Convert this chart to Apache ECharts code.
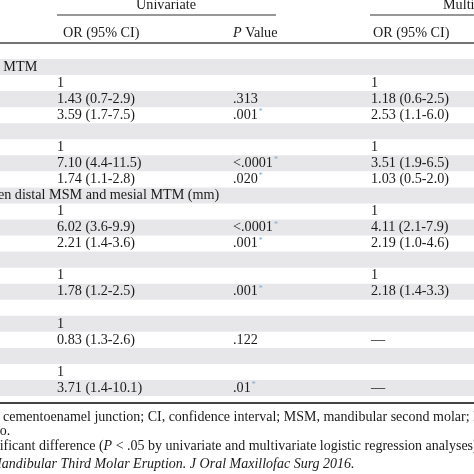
<!DOCTYPE html>
<html><head><meta charset="utf-8">
<script src="https://cdn.jsdelivr.net/npm/echarts@6/dist/echarts.min.js"></script>
<style>html,body{margin:0;padding:0;background:#fff}#c{width:474px;height:474px}</style>
</head><body><div id="c"></div>
<script>
const rowLabels = ['of MTM','','','','','','','','between distal MSM and mesial MTM (mm)','','','','','','','','','','','',''];
const uniOR = ['','1','1.43 (0.7-2.9)','3.59 (1.7-7.5)','','1','7.10 (4.4-11.5)','1.74 (1.1-2.8)','','1','6.02 (3.6-9.9)','2.21 (1.4-3.6)','','1','1.78 (1.2-2.5)','','1','0.83 (1.3-2.6)','','1','3.71 (1.4-10.1)'];
const uniP = ['','','.313','.001*','','','<.0001*','.020*','','','<.0001*','.001*','','','.001*','','','.122','','','.01*'];
const multiOR = ['','1','1.18 (0.6-2.5)','2.53 (1.1-6.0)','','1','3.51 (1.9-6.5)','1.03 (0.5-2.0)','','1','4.11 (2.1-7.9)','2.19 (1.0-4.6)','','1','2.18 (1.4-3.3)','','','—','','','—'];
const headers = ['Univariate','Multivariate','OR (95% CI)','P Value','OR (95% CI)'];
const footnotes = [
 'Abbreviations: CEJ, cementoenamel junction; CI, confidence interval; MSM, mandibular second molar; MTM, mandibular third molar',
 'ratio.',
 '*Significant difference (P < .05 by univariate and multivariate logistic regression analyses).',
 'Factors Affecting Mandibular Third Molar Eruption. J Oral Maxillofac Surg 2016.'
];
const F = '"Liberation Serif", "DejaVu Serif", serif';
const FS = '14.2px ';
const txtC = '#1a1a1a';
const top0 = 59, rowH = 16.05;
const els = [];
for (let i = 0; i < uniOR.length; i++) {
  const y = top0 + i * rowH;
  if (i % 2 === 0) els.push({type:'rect', shape:{x:0,y:y,width:474,height:rowH}, style:{fill:'#e7e7e9'}});
  const cy = y + rowH/2;
  const mk = (x, s) => {
    if (!s) return;
    const star = s.endsWith('*');
    const base = star ? s.slice(0,-1) : s;
    els.push({type:'text', x:x, y:cy, style:{text: star ? '{a|'+base+'}{s|*}' : '{a|'+base+'}', verticalAlign:'middle',
      rich:{a:{font:FS+F, fill:txtC}, s:{font:'8px '+F, fill:'#7fa9c9', verticalAlign:'top', padding:[0,0,5,1]}}}});
  };
  mk(57, uniOR[i]); mk(233, uniP[i]); mk(371, multiOR[i]);
}
els.push({type:'text', x:-12, y:top0+rowH/2, style:{text:rowLabels[0], font:FS+F, fill:txtC, verticalAlign:'middle'}});
els.push({type:'text', x:-36, y:top0+8*rowH+rowH/2, style:{text:rowLabels[8], font:FS+F, fill:txtC, verticalAlign:'middle'}});
els.push({type:'text', x:166, y:5, style:{text:headers[0], font:FS+F, fill:txtC, align:'center', verticalAlign:'middle'}});
els.push({type:'text', x:443, y:5, style:{text:headers[1], font:FS+F, fill:txtC, verticalAlign:'middle'}});
els.push({type:'line', shape:{x1:57,y1:15,x2:276,y2:15}, style:{stroke:'#333', lineWidth:1.2}});
els.push({type:'line', shape:{x1:370,y1:15,x2:474,y2:15}, style:{stroke:'#333', lineWidth:1.2}});
els.push({type:'text', x:63, y:33, style:{text:headers[2], font:FS+F, fill:txtC, verticalAlign:'middle'}});
els.push({type:'text', x:233, y:33, style:{text:'{i|P} Value', verticalAlign:'middle', rich:{i:{font:'italic '+FS+F, fill:txtC}}, font:FS+F, fill:txtC}});
els.push({type:'text', x:373, y:33, style:{text:headers[4], font:FS+F, fill:txtC, verticalAlign:'middle'}});
els.push({type:'line', shape:{x1:0,y1:43,x2:474,y2:43}, style:{stroke:'#444', lineWidth:1.5}});
els.push({type:'line', shape:{x1:0,y1:403,x2:474,y2:403}, style:{stroke:'#444', lineWidth:2}});
const FF = '14px ';
els.push({type:'text', x:-114, y:417, style:{text:footnotes[0], font:FF+F, fill:txtC, verticalAlign:'middle'}});
els.push({type:'text', x:-19, y:431, style:{text:footnotes[1], font:FF+F, fill:txtC, verticalAlign:'middle'}});
els.push({type:'text', x:-33, y:446, style:{text:'*Signi{n|ficant difference (}{i|P}{n| < .05 by univariate and multivariate logistic regression analyses).}', verticalAlign:'middle', font:FF+F, fill:txtC, rich:{n:{font:FF+F, fill:txtC}, i:{font:'italic '+FF+F, fill:txtC}}}});
els.push({type:'text', x:-111, y:464, style:{text:footnotes[3], font:'italic '+FF+F, fill:txtC, verticalAlign:'middle'}});
const chart = echarts.init(document.getElementById('c'));
chart.setOption({animation:false, graphic:{elements:els}});
</script></body></html>
